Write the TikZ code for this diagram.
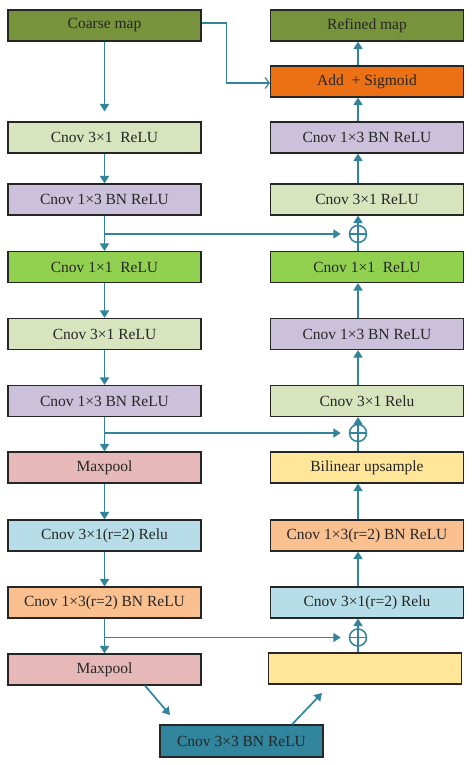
\documentclass[tikz,border=0pt]{standalone}
\usepackage{fontspec}
\setmainfont{Liberation Serif}
\usetikzlibrary{arrows.meta,calc}
\definecolor{olive}{HTML}{77933C}
\definecolor{orangeb}{HTML}{EC7014}
\definecolor{lgreen}{HTML}{D7E4BD}
\definecolor{lav}{HTML}{CCC1DA}
\definecolor{gr}{HTML}{92D050}
\definecolor{pinkb}{HTML}{E6B9B8}
\definecolor{lblue}{HTML}{B7DEE8}
\definecolor{peach}{HTML}{FAC090}
\definecolor{yel}{HTML}{FFE699}
\definecolor{tealb}{HTML}{31859C}
\definecolor{arr}{HTML}{31849B}
\begin{document}
\begin{tikzpicture}[x=1pt,y=-1pt,
  box/.style={draw=black!85, line width=1.1pt, minimum width=193pt, minimum height=31pt, inner sep=0pt, text=black!85, font=\fontsize{15.5}{18}\selectfont},
  link/.style={draw=arr, line width=1.7pt, -{Triangle[width=9pt,length=7.5pt]}},
  openlink/.style={draw=arr, line width=1.2pt, -{Straight Barb[length=4pt,width=11pt]}},
  oplus/.style={circle, draw=arr, line width=1.5pt, minimum size=17pt, inner sep=0pt, path picture={\draw[arr, line width=1.5pt] (path picture bounding box.west) -- (path picture bounding box.east);}}]
\useasboundingbox (0,0) rectangle (474,765);
% left column
\node[box, fill=olive]  (l1)  at (104.5,25.5)  {Coarse map};
\node[box, fill=lgreen] (l3)  at (104.5,137.5) {Cnov 3×1\ \ ReLU};
\node[box, fill=lav]    (l4)  at (104.5,199.5) {Cnov 1×3 BN ReLU};
\node[box, fill=gr]     (l5)  at (104.5,267)   {Cnov 1×1\ \ ReLU};
\node[box, fill=lgreen] (l6)  at (104.5,334)   {Cnov 3×1 ReLU};
\node[box, fill=lav]    (l7)  at (104.5,401)   {Cnov 1×3 BN ReLU};
\node[box, fill=pinkb]  (l8)  at (104.5,467.5) {Maxpool};
\node[box, fill=lblue]  (l9)  at (104.5,535.5) {Cnov 3×1(r=2) Relu};
\node[box, fill=peach]  (l10) at (104.5,602.5) {Cnov 1×3(r=2) BN ReLU};
\node[box, fill=pinkb]  (l11) at (104.5,669.5) {Maxpool};
% right column
\node[box, fill=olive]  (r1)  at (367,25.5)  {Refined map};
\node[box, fill=orangeb](r2)  at (367,81.5)  {Add\ \ + Sigmoid};
\node[box, fill=lav]    (r3)  at (367,137.5) {Cnov 1×3 BN ReLU};
\node[box, fill=lgreen] (r4)  at (367,199.5) {Cnov 3×1 ReLU};
\node[box, fill=gr]     (r5)  at (367,267)   {Cnov 1×1\ \ ReLU};
\node[box, fill=lav]    (r6)  at (367,334)   {Cnov 1×3 BN ReLU};
\node[box, fill=lgreen] (r7)  at (367,401)   {Cnov 3×1 Relu};
\node[box, fill=yel]    (r8)  at (367,467.5) {Bilinear upsample};
\node[box, fill=peach]  (r9)  at (367,535.5) {Cnov 1×3(r=2) BN ReLU};
\node[box, fill=lblue]  (r10) at (367,602.5) {Cnov 3×1(r=2) Relu};
\node[box, fill=yel]    (r11) at (365,668.5) {};
% bottom
\node[box, fill=tealb, minimum width=163pt, minimum height=32pt] (bt) at (241.5,741) {Cnov 3×3 BN ReLU};
% oplus
\node[oplus] (p1) at (358,234) {};
\node[oplus] (p2) at (358,433) {};
\node[oplus] (p3) at (358,637.5) {};
\coordinate (d1) at (170,715);
\coordinate (d2) at (322,693);
% left arrows
\draw[link, shorten >=10pt] (l1.south) -- (l3.north);
\draw[link] (l3.south) -- (l4.north);
\draw[link] (l4.south) -- (l5.north);
\draw[link] (l5.south) -- (l6.north);
\draw[link] (l6.south) -- (l7.north);
\draw[link] (l7.south) -- (l8.north);
\draw[link] (l8.south) -- (l9.north);
\draw[link] (l9.south) -- (l10.north);
\draw[link] (l10.south) -- (l11.north);
% skip connections
\draw[link, shorten >=8pt] (l4.south |- p1) -- (p1.west);
\draw[link, shorten >=8pt] (l7.south |- p2) -- (p2.west);
\draw[link, shorten >=8pt] (l10.south |- p3) -- (p3.west);
% right arrows
\draw[link] (r11.north -| p3) -- (r10.south -| p3);
\draw[link] (r10.north -| p3) -- (r9.south -| p3);
\draw[link] (r9.north -| p3) -- (r8.south -| p3);
\draw[link] (r8.north -| p2) -- (r7.south -| p2);
\draw[link] (r7.north -| p2) -- (r6.south -| p2);
\draw[link] (r6.north -| p2) -- (r5.south -| p2);
\draw[link] (r5.north -| p1) -- (r4.south -| p1);
\draw[link] (r4.north -| p1) -- (r3.south -| p1);
\draw[link] (r3.north -| p1) -- (r2.south -| p1);
\draw[link] (r2.north -| p1) -- (r1.south -| p1);
% coarse to add
\draw[openlink] ($(l1.east)+(0,-2.5)$) -- ++(25,0) |- ($(r2.west)+(0,1.5)$);
% bottom
\draw[link] ($(l11.south)+(40.5,0)$) -- (d1);
\draw[link] ($(bt.north)+(50.5,0)$) -- (d2);
\end{tikzpicture}
\end{document}
